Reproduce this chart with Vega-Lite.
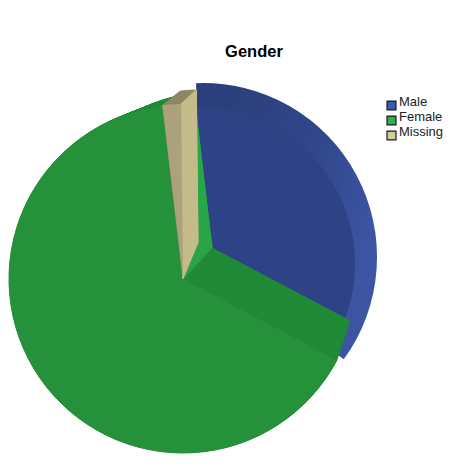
{"$schema":"https://vega.github.io/schema/vega-lite/v6.json","width":474,"height":475,"padding":0,"autosize":{"type":"none"},"background":"white","config":{"view":{"stroke":null}},"title":{"text":"Gender","font":"Liberation Sans","fontSize":16.5,"fontWeight":"bold","color":"#000000","frame":"group","anchor":"middle","dx":17,"dy":72,"baseline":"middle"},"data":{"values":[{"gender":"Male","percent":32.9,"depth":[1,0]},{"gender":"Female","percent":65.4,"depth":[1,0.96,0.92,0.88,0.84,0.8,0.76,0.72,0.68,0.64,0.6,0.56,0.52,0.48,0.44,0.4,0.36,0.32,0.28,0.24,0.2,0.16,0.12,0.08,0.04,0]},{"gender":"Missing","percent":1.7,"depth":[1,0.96,0.92,0.88,0.84,0.8,0.76,0.72,0.68,0.64,0.6,0.56,0.52,0.48,0.44,0.4,0.36,0.32,0.28,0.24,0.2,0.16,0.12,0.08,0.04,0]}]},"transform":[{"stack":"percent","as":["start","end"]},{"flatten":["depth"]}],"layer":[{"transform":[{"filter":"datum.depth==0"}],"mark":{"type":"arc","opacity":0},"encoding":{"x":{"field":"depth","type":"quantitative","stack":null,"axis":null,"scale":{"domain":[0,1],"range":[100,100]}},"y":{"field":"depth","type":"quantitative","stack":null,"axis":null,"scale":{"domain":[0,1],"range":[100,100]}},"theta":{"field":"start","type":"quantitative","stack":null,"scale":{"domain":[0,100],"range":[0,6.2832]}},"theta2":{"field":"end"},"radius":{"field":"depth","type":"quantitative","stack":null,"scale":{"type":"linear","domain":[0,1],"range":[10,10]}},"radius2":{"value":0},"color":{"field":"gender","type":"nominal","scale":{"domain":["Male","Female","Missing"],"range":["#3a5bab","#2bb24f","#d3cf9c"]},"legend":{"orient":"none","legendX":385,"legendY":99,"title":null,"symbolType":"square","symbolSize":80,"symbolOpacity":1,"symbolStrokeColor":"#1a1a1a","symbolStrokeWidth":1.2,"labelFont":"Liberation Sans","labelFontSize":13,"labelColor":"#222222","labelOffset":1,"labelBaseline":"alphabetic","rowPadding":-3,"padding":0}}}},{"transform":[{"filter":"datum.gender=='Male'&&datum.depth==0"}],"mark":{"type":"arc","fill":{"gradient":"linear","x1":0.2,"y1":0.05,"x2":0.95,"y2":0.55,"stops":[{"offset":0,"color":"#2c3f7d"},{"offset":0.55,"color":"#31478c"},{"offset":1,"color":"#3b55a2"}]}},"encoding":{"x":{"field":"depth","type":"quantitative","stack":null,"axis":null,"scale":{"domain":[0,1],"range":[203,198]}},"y":{"field":"depth","type":"quantitative","stack":null,"axis":null,"scale":{"domain":[0,1],"range":[257,264]}},"theta":{"field":"start","type":"quantitative","stack":null,"scale":{"domain":[0,32.9],"range":[-0.04,2.199]}},"theta2":{"field":"end"},"radius":{"field":"depth","type":"quantitative","stack":null,"scale":{"type":"linear","domain":[0,1],"range":[174,157]}},"radius2":{"value":0}}},{"transform":[{"filter":"datum.gender=='Male'&&datum.depth==1"}],"mark":{"type":"arc","fill":"#2e4386"},"encoding":{"x":{"field":"depth","type":"quantitative","stack":null,"axis":null,"scale":{"domain":[0,1],"range":[203,198]}},"y":{"field":"depth","type":"quantitative","stack":null,"axis":null,"scale":{"domain":[0,1],"range":[257,264]}},"theta":{"field":"start","type":"quantitative","stack":null,"scale":{"domain":[0,100],"range":[-0.0105,6.2727]}},"theta2":{"field":"end"},"radius":{"field":"depth","type":"quantitative","stack":null,"scale":{"type":"linear","domain":[0,1],"range":[174,157]}},"radius2":{"value":0}}},{"transform":[{"filter":"datum.gender=='Female'"}],"mark":{"type":"arc","fill":"#218a37","stroke":"#218a37","strokeWidth":1},"encoding":{"x":{"field":"depth","type":"quantitative","stack":null,"axis":null,"scale":{"domain":[0,1],"range":[183,212]}},"y":{"field":"depth","type":"quantitative","stack":null,"axis":null,"scale":{"domain":[0,1],"range":[279,248]}},"theta":{"field":"start","type":"quantitative","stack":null,"scale":{"domain":[0,100],"range":[-0.0105,6.2727]}},"theta2":{"field":"end"},"radius":{"field":"depth","type":"quantitative","stack":null,"scale":{"type":"linear","domain":[0,1],"range":[174,156]}},"radius2":{"value":0}}},{"transform":[{"filter":"datum.gender=='Female'"},{"calculate":"datum.end-0.2","as":"edge"}],"mark":{"type":"arc","fill":"#2aa848","stroke":"#2aa848","strokeWidth":1},"encoding":{"x":{"field":"depth","type":"quantitative","stack":null,"axis":null,"scale":{"domain":[0,1],"range":[183,212]}},"y":{"field":"depth","type":"quantitative","stack":null,"axis":null,"scale":{"domain":[0,1],"range":[279,248]}},"theta":{"field":"edge","type":"quantitative","stack":null,"scale":{"domain":[0,100],"range":[-0.0105,6.2727]}},"theta2":{"field":"end"},"radius":{"field":"depth","type":"quantitative","stack":null,"scale":{"type":"linear","domain":[0,1],"range":[174,156]}},"radius2":{"value":0}}},{"transform":[{"filter":"datum.gender=='Female'&&datum.depth==0"}],"mark":{"type":"arc","fill":"#25913a"},"encoding":{"x":{"field":"depth","type":"quantitative","stack":null,"axis":null,"scale":{"domain":[0,1],"range":[183,212]}},"y":{"field":"depth","type":"quantitative","stack":null,"axis":null,"scale":{"domain":[0,1],"range":[279,248]}},"theta":{"field":"start","type":"quantitative","stack":null,"scale":{"domain":[0,100],"range":[-0.0105,6.2727]}},"theta2":{"field":"end"},"radius":{"field":"depth","type":"quantitative","stack":null,"scale":{"type":"linear","domain":[0,1],"range":[174,156]}},"radius2":{"value":0}}},{"transform":[{"filter":"datum.gender=='Missing'"}],"mark":{"type":"arc","fill":"#8f8764","stroke":"#8f8764","strokeWidth":0.8},"encoding":{"x":{"field":"depth","type":"quantitative","stack":null,"axis":null,"scale":{"domain":[0,1],"range":[183,198]}},"y":{"field":"depth","type":"quantitative","stack":null,"axis":null,"scale":{"domain":[0,1],"range":[279,243]}},"theta":{"field":"start","type":"quantitative","stack":null,"scale":{"domain":[0,100],"range":[-0.0105,6.2727]}},"theta2":{"field":"end"},"radius":{"field":"depth","type":"quantitative","stack":null,"scale":{"type":"linear","domain":[0,1],"range":[175,153]}},"radius2":{"value":0}}},{"transform":[{"filter":"datum.gender=='Missing'"},{"calculate":"datum.end-0.05","as":"edge"}],"mark":{"type":"arc","fill":"#c6bc8c","stroke":"#c6bc8c","strokeWidth":0.8},"encoding":{"x":{"field":"depth","type":"quantitative","stack":null,"axis":null,"scale":{"domain":[0,1],"range":[183,198]}},"y":{"field":"depth","type":"quantitative","stack":null,"axis":null,"scale":{"domain":[0,1],"range":[279,243]}},"theta":{"field":"edge","type":"quantitative","stack":null,"scale":{"domain":[0,100],"range":[-0.0105,6.2727]}},"theta2":{"field":"end"},"radius":{"field":"depth","type":"quantitative","stack":null,"scale":{"type":"linear","domain":[0,1],"range":[175,153]}},"radius2":{"value":0}}},{"transform":[{"filter":"datum.gender=='Missing'&&datum.depth==0"}],"mark":{"type":"arc","fill":"#aba27b"},"encoding":{"x":{"field":"depth","type":"quantitative","stack":null,"axis":null,"scale":{"domain":[0,1],"range":[183,198]}},"y":{"field":"depth","type":"quantitative","stack":null,"axis":null,"scale":{"domain":[0,1],"range":[279,243]}},"theta":{"field":"start","type":"quantitative","stack":null,"scale":{"domain":[0,100],"range":[-0.0105,6.2727]}},"theta2":{"field":"end"},"radius":{"field":"depth","type":"quantitative","stack":null,"scale":{"type":"linear","domain":[0,1],"range":[175,153]}},"radius2":{"value":0}}}],"resolve":{"scale":{"x":"independent","y":"independent","theta":"independent","radius":"independent","color":"independent"}}}
